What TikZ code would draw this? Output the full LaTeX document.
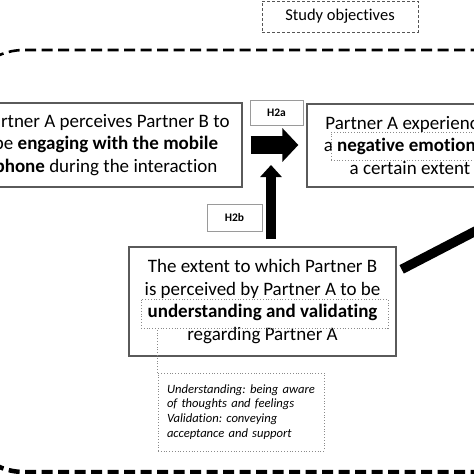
\documentclass[tikz,border=0pt]{standalone}
\usepackage{fontspec}
\setmainfont{Carlito}[Ligatures=CommonOff]
\usetikzlibrary{arrows.meta,calc}
\definecolor{boxgray}{HTML}{5A5A5A}
\definecolor{hgray}{HTML}{9A9A9A}
\definecolor{dotgray}{HTML}{8A8A8A}
\definecolor{dashgray}{HTML}{555555}
\frenchspacing
\begin{document}
\begin{tikzpicture}[x=1pt,y=-1pt,
  mainbox/.style={draw=boxgray, line width=1.3pt, align=center, inner sep=0pt,
    font=\fontsize{19}{22.8}\selectfont},
  hbox/.style={draw=hgray, line width=0.8pt, inner sep=0pt,
    font=\bfseries\fontsize{11.5}{13}\selectfont},
  dotbox/.style={draw=dotgray, dotted, line width=0.8pt},
  bigdash/.style={line width=2.6pt, dash pattern=on 11pt off 5.5pt, rounded corners=62pt},
  blockarrow/.style={line width=18pt, -{Triangle[length=16pt,width=33pt]}},
]
\useasboundingbox (0,0) rectangle (474,474);

% outer dashed frame
\draw[bigdash] (-38,261) |- (530,50);
\draw[bigdash, line width=4.5pt] (-38,261) |- (530,472);

% study objectives
\node[draw=dashgray, line width=1pt, dash pattern=on 3pt off 2pt,
  minimum width=156pt, minimum height=31pt, inner sep=0pt,
  font=\fontsize{16.5}{18}\selectfont] (so) at (340,16.5) {Study objectives};

% main boxes
\node[mainbox, minimum width=272pt, minimum height=84pt] (A) at (106,145)
  {Partner A perceives Partner B to\\ be \textbf{engaging with the mobile}\\ \textbf{phone} during the interaction};
\node[mainbox, minimum width=206pt, minimum height=83pt] (B) at (410,145.5)
  {Partner A experiences\\ a \textbf{negative emotion} to\\ a certain extent};
\node[mainbox, minimum width=267pt, minimum height=109pt] (C) at (262.5,301.5)
  {The extent to which Partner B\\ is perceived by Partner A to be\\ \textbf{understanding and validating}\\ regarding Partner A};

% hypothesis labels
\node[hbox, minimum width=53pt, minimum height=25pt] (H2a) at (276.5,112.5) {H2a};
\node[hbox, minimum width=55pt, minimum height=27pt] (H2b) at (234.5,217.5) {H2b};

% dotted highlight boxes
\node[dotbox, minimum width=247pt, minimum height=29pt] (uv) at (264.5,313.5) {};
\node[dotbox, minimum width=170pt, minimum height=28pt] (ne) at (416,146) {};

% definition box
\node[dotbox, minimum width=166pt, minimum height=78pt, text width=148pt,
  inner xsep=9pt, align=left, font=\itshape\fontsize{12.6}{14.8}\selectfont]
  (def) at (241,412)
  {Understanding: being aware\\ of thoughts and feelings\\ Validation: conveying\\ acceptance and support};
\draw[draw=dotgray, dotted, line width=0.8pt] (def.north west) -- (def.north west |- uv.south);

% arrows
\draw[blockarrow, shorten <=8pt, shorten >=8pt] (A.east) -- (A.east -| B.west);
\coordinate (mod) at (271,165);
\draw[line width=10pt, -{Triangle[length=12pt,width=21pt]}, shorten <=7pt] (C.north -| mod) -- (mod);
\coordinate (dstart) at ($(C.north east)+(5,23)$);
\coordinate (dend) at (520,208);
\draw[line width=9.5pt] (dstart) -- (dend);
\end{tikzpicture}
\end{document}
